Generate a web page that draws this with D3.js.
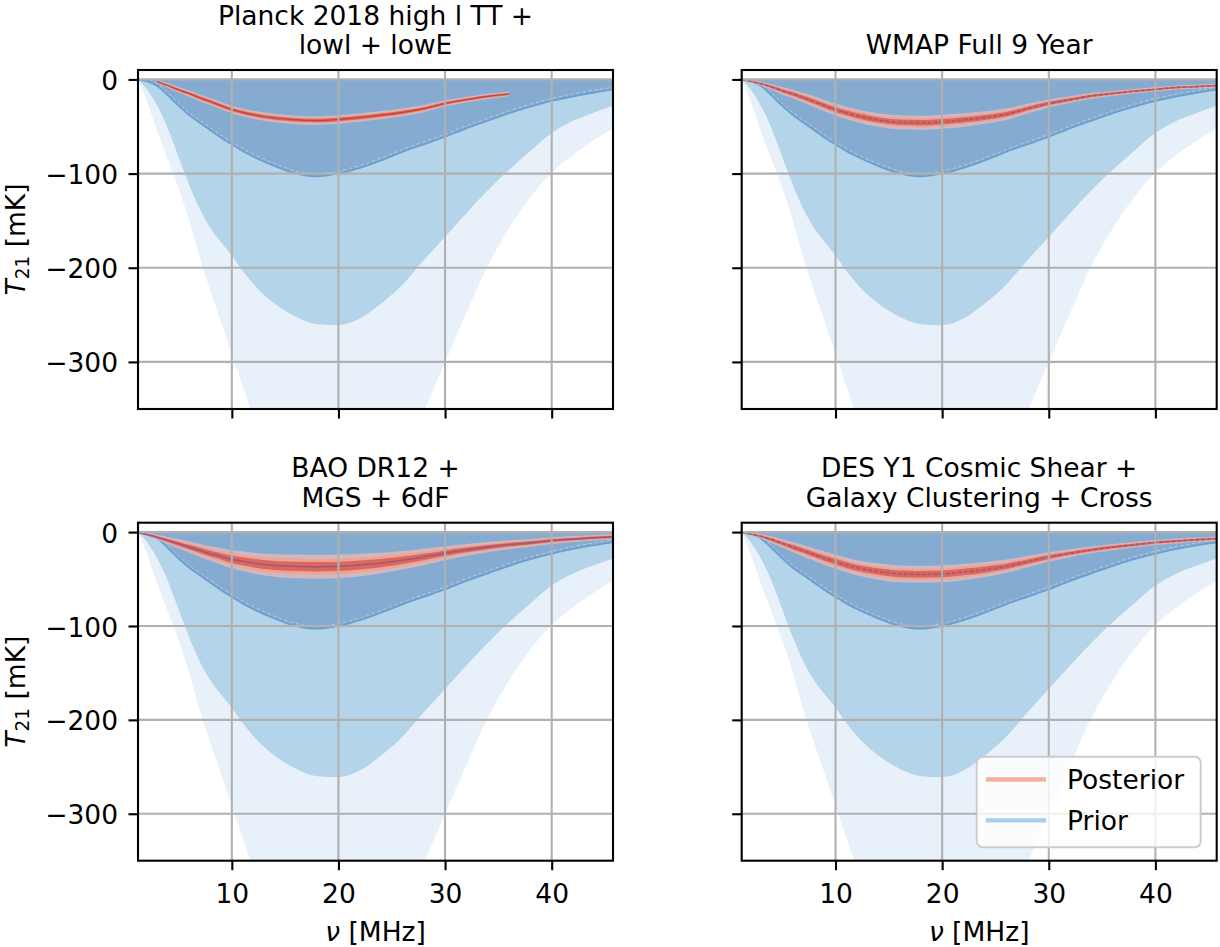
<!DOCTYPE html>
<html><head><meta charset="utf-8">
<script src="https://cdn.jsdelivr.net/npm/d3@7"></script>
<style>
body{margin:0;background:#fff}
svg{display:block}
text{font-family:"DejaVu Sans",sans-serif;fill:#000}
</style>
</head><body>
<svg id="c" width="1220" height="947"></svg>
<script>
// ---------- data ----------
const nu = [1.2, 2, 3, 4, 5, 6, 7, 8, 9, 10, 11, 12, 14, 16, 18, 20, 22, 24, 26, 28, 30, 32, 34, 36, 38, 40, 42, 44, 45.75];

const priorTop    = [0,0,0,0,0,0,0,0,0,0,0,0,0,0,0,0,0,0,0,0,0,0,0,0,0,0,0,0,0];
const prior1Lower = [0, -2, -7, -17, -28, -38, -46, -54, -62, -69, -76, -82, -92, -100, -103, -100, -94, -86, -77, -69, -61, -52, -44, -36, -29, -23, -18, -14, -11];
const prior2Lower = [0, -10, -28, -52, -82, -112, -138, -158, -173, -187, -203, -217, -238, -252, -260, -261, -254, -238, -218, -192, -167, -142, -118, -96, -76, -57, -44, -35, -28];
const prior3Lower = [0, -22, -55, -85, -115, -150, -190, -225, -258, -292, -325, -358, -410, -450, -470, -470, -455, -430, -395, -352, -300, -248, -198, -158, -125, -99, -80, -64, -52];

const planckMid = [null, null, -2.5, -6.5, -11, -15, -19.5, -23.5, -28, -32, -35, -37.5, -41, -43, -43.7, -42.5, -40.5, -38, -35, -31, -25.5, -21.5, -18, -15.5, null, null, null, null, null];
const planckSd  = [null, null, 0.6, 0.8, 1.0, 1.1, 1.2, 1.25, 1.3, 1.35, 1.4, 1.45, 1.5, 1.5, 1.5, 1.5, 1.5, 1.45, 1.4, 1.3, 1.1, 1.0, 0.9, 0.8, null, null, null, null, null];

const wmapMid = [-0.5, -2, -4.5, -8, -12, -15.5, -19.5, -23.5, -28, -32, -35.5, -38.5, -43, -45.5, -46, -45, -43, -40.5, -37, -31, -25.5, -21.5, -17.5, -15, -12.5, -10.5, -8.5, -7.5, -6.5];
const wmapSd  = [0.1, 0.4, 0.7, 1.0, 1.3, 1.5, 1.7, 1.9, 2.0, 2.1, 2.2, 2.3, 2.4, 2.5, 2.5, 2.5, 2.4, 2.2, 2.0, 1.7, 1.4, 1.2, 1.0, 0.9, 0.8, 0.8, 0.7, 0.7, 0.7];

const baoMid = [-0.5, -2.5, -5.5, -9, -12.5, -16, -19.5, -23, -26, -29, -31, -33, -35.5, -36.5, -37, -36.5, -35, -33, -30, -26.5, -22.5, -19, -16, -13.5, -11.5, -9, -7.5, -6, -5];
const baoSd  = [0.1, 0.5, 0.9, 1.3, 1.7, 2.0, 2.3, 2.6, 2.9, 3.2, 3.5, 3.7, 4.0, 4.2, 4.2, 4.2, 4.0, 3.7, 3.3, 2.9, 2.5, 2.1, 1.8, 1.6, 1.4, 1.2, 1.1, 1.0, 1.0];

const desMid = [-0.5, -2, -4.5, -8, -12, -16, -20, -24, -28, -31.5, -35, -38, -42, -44.5, -45, -44.5, -42.5, -40, -36.5, -31.5, -26.5, -22.5, -19, -16, -13.5, -11, -9.5, -8, -7];
const desSd  = [0.1, 0.5, 0.8, 1.2, 1.5, 1.8, 2.0, 2.2, 2.4, 2.5, 2.6, 2.7, 2.9, 3.0, 3.0, 3.0, 2.9, 2.7, 2.4, 2.0, 1.7, 1.4, 1.2, 1.1, 1.0, 0.9, 0.9, 0.8, 0.8];

const sigmaLevels = [3, 2, 1.2];

const titles = [
  ["Planck 2018 high l TT +", "lowl + lowE"],
  ["WMAP Full 9 Year"],
  ["BAO DR12 +", "MGS + 6dF"],
  ["DES Y1 Cosmic Shear +", "Galaxy Clustering + Cross"]
];
const xTicks = [10, 20, 30, 40];
const yTicks = [0, -100, -200, -300];
const xDomain = [1.2, 45.75];
const yDomain = [-350, 10];
const legendLabels = ["Posterior", "Prior"];

// ---------- styles ----------
const priorColors = ["#e8f1f9", "#b4d4e9", "#86abd0"];
const postColors = ["#cfb8c2", "#eca594", "#dc675c"];
const coreColors = ["#c0454a", "#a0587e", "#a0587e", "#a0587e"];
const FS = 26.5;

const svg = d3.select("#c");
const defs = svg.append("defs");

const L = {xl: 138, xr: 613, xl2: 741.7, xr2: 1216.7, yt: 70, yb: 409, yt2: 522.7, yb2: 860.7};
const panels = [
  {x0: L.xl,  x1: L.xr,  y0: L.yt,  y1: L.yb,  mid: planckMid, sd: planckSd, showX: false, showY: true},
  {x0: L.xl2, x1: L.xr2, y0: L.yt,  y1: L.yb,  mid: wmapMid,   sd: wmapSd,   showX: false, showY: false},
  {x0: L.xl,  x1: L.xr,  y0: L.yt2, y1: L.yb2, mid: baoMid,    sd: baoSd,    showX: true,  showY: true},
  {x0: L.xl2, x1: L.xr2, y0: L.yt2, y1: L.yb2, mid: desMid,    sd: desSd,    showX: true,  showY: false, legend: true}
];

const idx = d3.range(nu.length);

panels.forEach((p, pi) => {
  const x = d3.scaleLinear().domain(xDomain).range([p.x0, p.x1]);
  const y = d3.scaleLinear().domain(yDomain).range([p.y1, p.y0]);
  const clipId = "clip" + pi;
  defs.append("clipPath").attr("id", clipId).append("rect")
    .attr("x", p.x0).attr("y", p.y0).attr("width", p.x1 - p.x0).attr("height", p.y1 - p.y0);

  const g = svg.append("g");
  const plot = g.append("g").attr("clip-path", `url(#${clipId})`);

  const band = (lo, hi) => d3.area()
    .x(i => x(nu[i])).y0(i => y(lo[i])).y1(i => y(hi[i]))
    .curve(d3.curveMonotoneX)(idx);

  plot.append("path").attr("d", band(prior3Lower, priorTop)).attr("fill", priorColors[0]);
  plot.append("path").attr("d", band(prior2Lower, priorTop)).attr("fill", priorColors[1]);
  plot.append("path").attr("d", band(prior1Lower, priorTop)).attr("fill", priorColors[2]);
  const edge = d3.line().x(i => x(nu[i])).y(i => y(prior1Lower[i])).curve(d3.curveMonotoneX)(idx);
  plot.append("path").attr("d", edge)
    .attr("fill", "none").attr("stroke", "#679fd1").attr("stroke-width", 1.6);
  plot.append("path").attr("d", edge)
    .attr("transform", "translate(0,-2.5)")
    .attr("fill", "none").attr("stroke", "#ffffff").attr("stroke-opacity", 0.5)
    .attr("stroke-width", 0.8).attr("stroke-dasharray", "3,3");

  // posterior
  const def = i => p.mid[i] !== null;
  sigmaLevels.forEach((k, j) => {
    const a = d3.area().defined(def)
      .x(i => x(nu[i]))
      .y0(i => y(p.mid[i] - k * p.sd[i]))
      .y1(i => y(p.mid[i] + k * p.sd[i]))
      .curve(d3.curveMonotoneX);
    plot.append("path").attr("d", a(idx)).attr("fill", postColors[j]);
  });
  plot.append("path")
    .attr("d", d3.line().defined(def).x(i => x(nu[i])).y(i => y(p.mid[i])).curve(d3.curveMonotoneX)(idx))
    .attr("fill", "none").attr("stroke", coreColors[pi]).attr("stroke-width", pi === 0 ? 1.2 : 1.6)
    .attr("stroke-dasharray", (pi === 1 || pi === 3) ? "4,2" : null);

  // grid
  const grid = g.append("g").attr("stroke", "#b0b0b0").attr("stroke-width", 2.1);
  xTicks.forEach(t => grid.append("line").attr("x1", x(t)).attr("x2", x(t)).attr("y1", p.y0).attr("y2", p.y1));
  yTicks.forEach(t => grid.append("line").attr("x1", p.x0).attr("x2", p.x1).attr("y1", y(t)).attr("y2", y(t)));

  // axes
  const ax = g.append("g").attr("transform", `translate(0,${p.y1})`)
    .call(d3.axisBottom(x).tickValues(xTicks).tickSize(9.5)
      .tickFormat(p.showX ? d3.format("d") : () => ""));
  ax.select(".domain").remove();
  ax.selectAll(".tick line").attr("stroke", "#000").attr("stroke-width", 2.1);
  ax.selectAll(".tick text").attr("y", 42.3).attr("dy", null)
    .attr("font-size", FS).attr("font-family", "DejaVu Sans").attr("fill", "#000");

  const ay = g.append("g").attr("transform", `translate(${p.x0},0)`)
    .call(d3.axisLeft(y).tickValues(yTicks).tickSize(9.5).tickPadding(10.5)
      .tickFormat(p.showY ? d3.format("d") : () => ""));
  ay.select(".domain").remove();
  ay.selectAll(".tick line").attr("stroke", "#000").attr("stroke-width", 2.1);
  ay.selectAll(".tick text").attr("dy", "0.38em")
    .attr("font-size", FS).attr("font-family", "DejaVu Sans").attr("fill", "#000");

  // spine
  g.append("rect").attr("x", p.x0).attr("y", p.y0).attr("width", p.x1 - p.x0).attr("height", p.y1 - p.y0)
    .attr("fill", "none").attr("stroke", "#000").attr("stroke-width", 2.1);

  // title
  const cx = (p.x0 + p.x1) / 2;
  const lines = titles[pi];
  lines.forEach((s, li) => {
    g.append("text").attr("x", cx)
      .attr("y", p.y0 - 16 - (lines.length - 1 - li) * 29.5)
      .attr("text-anchor", "middle").attr("font-size", 26.5).text(s);
  });

  // y label
  if (p.showY) {
    const t = g.append("text")
      .attr("transform", `translate(25,${(p.y0 + p.y1) / 2}) rotate(-90)`)
      .attr("text-anchor", "middle").attr("font-size", FS);
    t.append("tspan").attr("font-style", "italic").text("T");
    t.append("tspan").attr("font-size", FS * 0.7).attr("dy", 4).text("21");
    t.append("tspan").attr("dy", -4).text("\u00a0[mK]");
  }
  // x label
  if (p.showX) {
    const t = g.append("text").attr("x", cx).attr("y", 940.5)
      .attr("text-anchor", "middle").attr("font-size", FS);
    t.append("tspan").attr("font-style", "italic").text("\u03bd");
    t.append("tspan").text(" [MHz]");
  }

  // legend
  if (p.legend) {
    const lg = g.append("g");
    lg.append("rect").attr("x", 976.7).attr("y", 756.7).attr("width", 224).attr("height", 90.6)
      .attr("rx", 6).attr("fill", "#fff").attr("fill-opacity", 0.8)
      .attr("stroke", "#cccccc").attr("stroke-width", 2);
    const lc = ["#f7ae9b", "#a9cde8"];
    legendLabels.forEach((s, k) => {
      const yy = 779.5 + k * 40.8;
      lg.append("line").attr("x1", 986).attr("x2", 1046).attr("y1", yy).attr("y2", yy)
        .attr("stroke", lc[k]).attr("stroke-width", 4.3);
      lg.append("text").attr("x", 1067).attr("y", yy + 9.5).attr("font-size", FS).text(s);
    });
  }
});
</script>
</body></html>
